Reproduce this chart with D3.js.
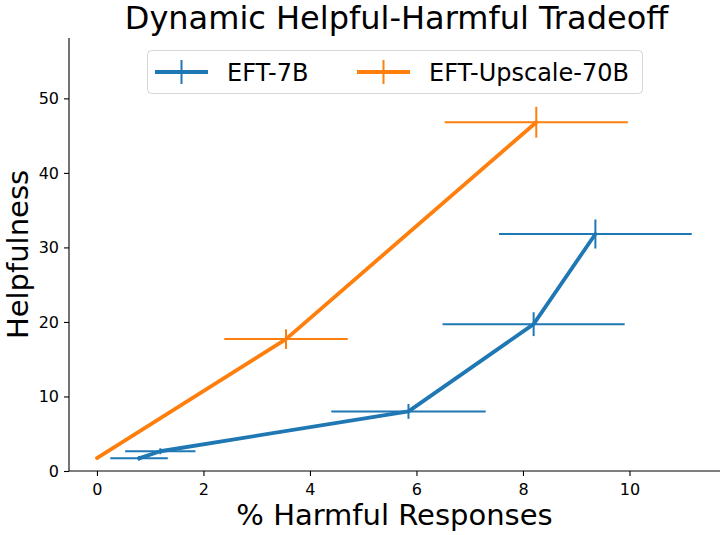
<!DOCTYPE html>
<html>
<head>
<meta charset="utf-8">
<script src="https://cdn.jsdelivr.net/npm/d3@7"></script>
<style>
  body { margin: 0; background: #fff; }
  text { font-family: "DejaVu Sans", sans-serif; }
</style>
</head>
<body>
<div id="chart"></div>
<script>
// values
const seriesNames = ["EFT-7B", "EFT-Upscale-70B"];
const harmful7B = [0.79, 1.19, 5.85, 8.2, 9.36];
const helpful7B = [1.7, 2.65, 8.0, 19.7, 31.8];
const harmErr7B = [0.54, 0.66, 1.45, 1.71, 1.81];
const helpErr7B = [0.3, 0.4, 1.0, 1.6, 1.95];
const harmful70B = [0.0, 3.55, 8.25];
const helpful70B = [1.74, 17.7, 46.8];
const harmErr70B = [0.0, 1.16, 1.72];
const helpErr70B = [0.0, 1.33, 2.07];
const xTicks = [0, 2, 4, 6, 8, 10];
const yTicks = [0, 10, 20, 30, 40, 50];
const colors = ["#1f77b4", "#ff7f0e"];

const W = 728, H = 535;
const mLeft = 69, mRight = 720, mTop = 38, mBottom = 471;

const svg = d3.select("#chart").append("svg").attr("width", W).attr("height", H);

const x = d3.scaleLinear().domain([-0.525, 11.7]).range([mLeft, mRight]);
const y = d3.scaleLinear().domain([0, 58.1]).range([mBottom, mTop]);

function toPoints(xs, ys, xe, ye) {
  return xs.map((v, i) => ({x: v, y: ys[i], xe: xe[i], ye: ye[i]}));
}
const series = [
  toPoints(harmful7B, helpful7B, harmErr7B, helpErr7B),
  toPoints(harmful70B, helpful70B, harmErr70B, helpErr70B)
];

// axes
const xAxis = d3.axisBottom(x).tickValues(xTicks).tickFormat(d3.format("d")).tickSize(5).tickPadding(8).tickSizeOuter(0);
const yAxis = d3.axisLeft(y).tickValues(yTicks).tickFormat(d3.format("d")).tickSize(5).tickPadding(5).tickSizeOuter(0);

const gx = svg.append("g").attr("transform", `translate(0,${mBottom})`).call(xAxis);
const gy = svg.append("g").attr("transform", `translate(${mLeft},0)`).call(yAxis);
[gx, gy].forEach(g => {
  g.selectAll("text").attr("font-size", 16).attr("fill", "#000").attr("font-family", "DejaVu Sans");
  g.selectAll("line").attr("stroke", "#000").attr("stroke-width", 1.1);
  g.select(".domain").attr("stroke", "#000").attr("stroke-width", 1.1);
});
// spines span the whole plot area
gx.select(".domain").attr("d", `M${mLeft},0H${mRight}`);
gy.select(".domain").attr("d", `M0,${mTop}V${mBottom}`);

// error bars and lines
series.forEach((pts, si) => {
  const g = svg.append("g");
  g.selectAll("line.xe").data(pts.filter(d => d.xe > 0)).enter().append("line")
    .attr("x1", d => x(d.x - d.xe)).attr("x2", d => x(d.x + d.xe))
    .attr("y1", d => y(d.y)).attr("y2", d => y(d.y))
    .attr("stroke", colors[si]).attr("stroke-width", 2);
  g.selectAll("line.ye").data(pts.filter(d => d.ye > 0)).enter().append("line")
    .attr("x1", d => x(d.x)).attr("x2", d => x(d.x))
    .attr("y1", d => y(d.y - d.ye)).attr("y2", d => y(d.y + d.ye))
    .attr("stroke", colors[si]).attr("stroke-width", 2);
  g.append("path").datum(pts)
    .attr("d", d3.line().x(d => x(d.x)).y(d => y(d.y)))
    .attr("fill", "none").attr("stroke", colors[si]).attr("stroke-width", 3.8)
    .attr("stroke-linejoin", "round").attr("stroke-linecap", "round");
});

// title and labels
svg.append("text").attr("x", 396.5).attr("y", 29).attr("text-anchor", "middle")
  .attr("font-size", 32).text("Dynamic Helpful-Harmful Tradeoff");
svg.append("text").attr("x", (mLeft + mRight) / 2).attr("y", 525).attr("text-anchor", "middle")
  .attr("font-size", 29).text("% Harmful Responses");
svg.append("text").attr("transform", `translate(27.5,${(mTop + mBottom) / 2}) rotate(-90)`)
  .attr("text-anchor", "middle").attr("font-size", 29).text("Helpfulness");

// legend
const lg = svg.append("g");
lg.append("rect").attr("x", 147.5).attr("y", 50.5).attr("width", 495).attr("height", 43).attr("rx", 4)
  .attr("fill", "#fff").attr("fill-opacity", 0.8).attr("stroke", "#d6d6d6").attr("stroke-width", 1);
const legendX = [155, 357];
seriesNames.forEach((name, i) => {
  const lx = legendX[i], ly = 72;
  lg.append("line").attr("x1", lx).attr("x2", lx + 53).attr("y1", ly).attr("y2", ly)
    .attr("stroke", colors[i]).attr("stroke-width", 3.8);
  lg.append("line").attr("x1", lx + 26.5).attr("x2", lx + 26.5).attr("y1", ly - 12).attr("y2", ly + 12)
    .attr("stroke", colors[i]).attr("stroke-width", 2);
  lg.append("text").attr("x", lx + 72).attr("y", ly + 8.5).attr("font-size", 24).text(name);
});
</script>
</body>
</html>
